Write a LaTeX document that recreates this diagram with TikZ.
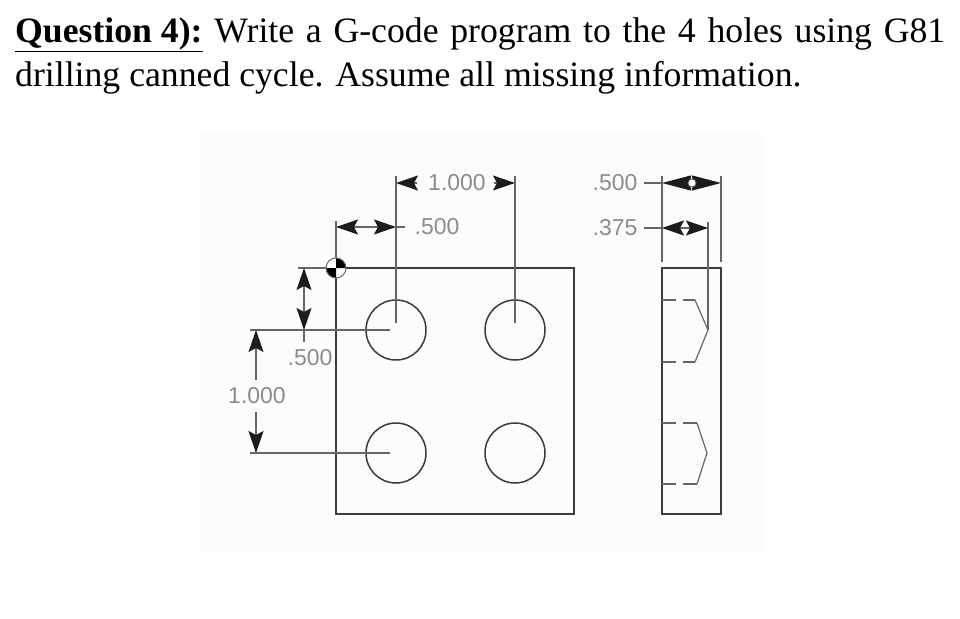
\documentclass[tikz,border=0pt]{standalone}
\usepackage{fontspec}
\setmainfont{Liberation Serif}
\newfontfamily\dimfont{Liberation Sans}
\usetikzlibrary{arrows.meta}
\definecolor{inkdark}{HTML}{3C3C3C}
\definecolor{inkmid}{HTML}{666666}
\definecolor{dimtext}{HTML}{8C8C8C}
\definecolor{panel}{HTML}{FCFCFC}
\definecolor{headcol}{HTML}{1C1C1C}
\tikzset{
  x=1pt,y=-1pt,
  title/.style={inner sep=0pt,anchor=base west,font=\fontsize{35.7}{36}\selectfont,text=black},
  part/.style={draw=inkdark,line width=1.5pt,minimum width=#1,inner sep=0pt,outer sep=0pt},
  hole/.style={circle,draw=inkdark,line width=1.5pt,minimum size=60pt,inner sep=0pt,outer sep=0pt},
  dimlabel/.style={font=\dimfont\fontsize{23}{23}\selectfont,text=dimtext,inner sep=0pt},
  extline/.style={draw=inkmid,line width=1.2pt},
  dimline/.style={draw=inkmid,line width=1.4pt},
  hidden/.style={draw=inkmid,line width=1.2pt,dash pattern=on 14pt off 7pt},
  hiddensolid/.style={draw=inkmid,line width=1.2pt},
  tip/.style={-{Stealth[length=22pt,width=15pt,inset=4pt,fill=headcol,color=headcol]}},
  twotips/.style={{Stealth[length=22pt,width=15pt,inset=4pt,fill=headcol,color=headcol]}-{Stealth[length=22pt,width=15pt,inset=4pt,fill=headcol,color=headcol]}},
  fattips/.style={{Stealth[length=29pt,width=15pt,inset=1pt,fill=headcol,color=headcol]}-{Stealth[length=29pt,width=15pt,inset=1pt,fill=headcol,color=headcol]}}
}
\begin{document}
\begin{tikzpicture}
\useasboundingbox (0,0) rectangle (960,618);
\fill[white] (0,0) rectangle (960,618);
\fill[panel] (200,133) rectangle (762,552);
% title
\node[title] (line1) at (15,42) {\makebox[930pt][s]{\underline{\textbf{Question 4):}} Write a G-code program to the 4 holes using G81}};
\node[title] (line2) at (15,86) {drilling canned cycle. Assume all missing information.};
% plate and side view
\node[part=238pt,minimum height=246pt,anchor=north west] (plate) at (336,268) {};
\node[part=59pt,minimum height=246pt,anchor=north west] (side) at (662,268) {};
\node[hole] (h1) at (396,330) {};
\node[hole] (h2) at (515,330) {};
\node[hole] (h3) at (396,453) {};
\node[hole] (h4) at (515,453) {};
% coordinates
\coordinate (a1) at (396,176); \coordinate (a2) at (396,323);
\coordinate (b1) at (515,176); \coordinate (b2) at (515,323);
\coordinate (c1) at (336,221);
\coordinate (d1) at (298,268);
\coordinate (e1) at (250,330); \coordinate (e2) at (390,330);
\coordinate (f1) at (250,453); \coordinate (f2) at (390,453);
\coordinate (g1) at (662,176); \coordinate (g2) at (662,262);
\coordinate (k1) at (721,176); \coordinate (k2) at (721,262);
\coordinate (m1) at (708,222); \coordinate (m2) at (708,330);
% extension lines
\draw[extline] (a1)--(a2);
\draw[extline] (b1)--(b2);
\draw[extline] (c1)--(plate.north west);
\draw[extline] (d1)--(plate.north west);
\draw[extline] (e1)--(e2);
\draw[extline] (f1)--(f2);
\draw[extline] (g1)--(g2);
\draw[extline] (k1)--(k2);
\draw[extline] (m1)--(m2);
% labels
\node[dimlabel] (t1000) at (457,183) {1.000};
\node[dimlabel] (t500a) at (437,227) {.500};
\node[dimlabel] (t500b) at (310,358) {.500};
\node[dimlabel] (t1000b) at (257,396) {1.000};
\node[dimlabel] (t500c) at (615,183) {.500};
\node[dimlabel] (t375) at (615,228) {.375};
% horizontal dims
\coordinate (p1) at (417,183); \coordinate (p2) at (494,183);
\draw[dimline,tip] (p1)--(396,183);
\draw[dimline,tip] (p2)--(515,183);
\draw[dimline,twotips] (336,227)--(396,227);
\draw[dimline] (396,227)--(405,227);
% vertical dims
\draw[dimline,twotips] (304,268)--(304,330);
\draw[extline] (304,330)--(304,342);
\draw[dimline,tip] (256,380)--(256,330);
\draw[dimline,tip] (256,412)--(256,453);
% right dims
\draw[dimline] (644,183)--(662,183);
\draw[dimline,fattips] (662,183)--(721,183);
\draw[dimline] (644,228)--(662,228);
\draw[dimline,twotips] (662,228)--(708,228);
\fill[white] (692,183) circle (4pt);
\draw[inkmid,line width=.8pt] (692,183) circle (4pt);
% datum symbol
\fill[white] (336,268) circle (10pt);
\fill[black] (336,268) -- (336,258) arc[start angle=-90,end angle=0,radius=10] -- cycle;
\fill[black] (336,268) -- (336,278) arc[start angle=90,end angle=180,radius=10] -- cycle;
\draw[inkmid,line width=1pt] (336,268) circle (10pt);
% hidden holes in side view
\draw[hidden] (side.west |- 0,300) -- (695,300);
\draw[hiddensolid] (695,300) -- (708,330) -- (695,362);
\draw[hidden] (side.west |- 0,362) -- (695,362);
\draw[hidden] (side.west |- 0,423) -- (697,423);
\draw[hiddensolid] (697,423) -- (707,453) -- (697,484);
\draw[hidden] (side.west |- 0,484) -- (697,484);
\end{tikzpicture}
\end{document}
